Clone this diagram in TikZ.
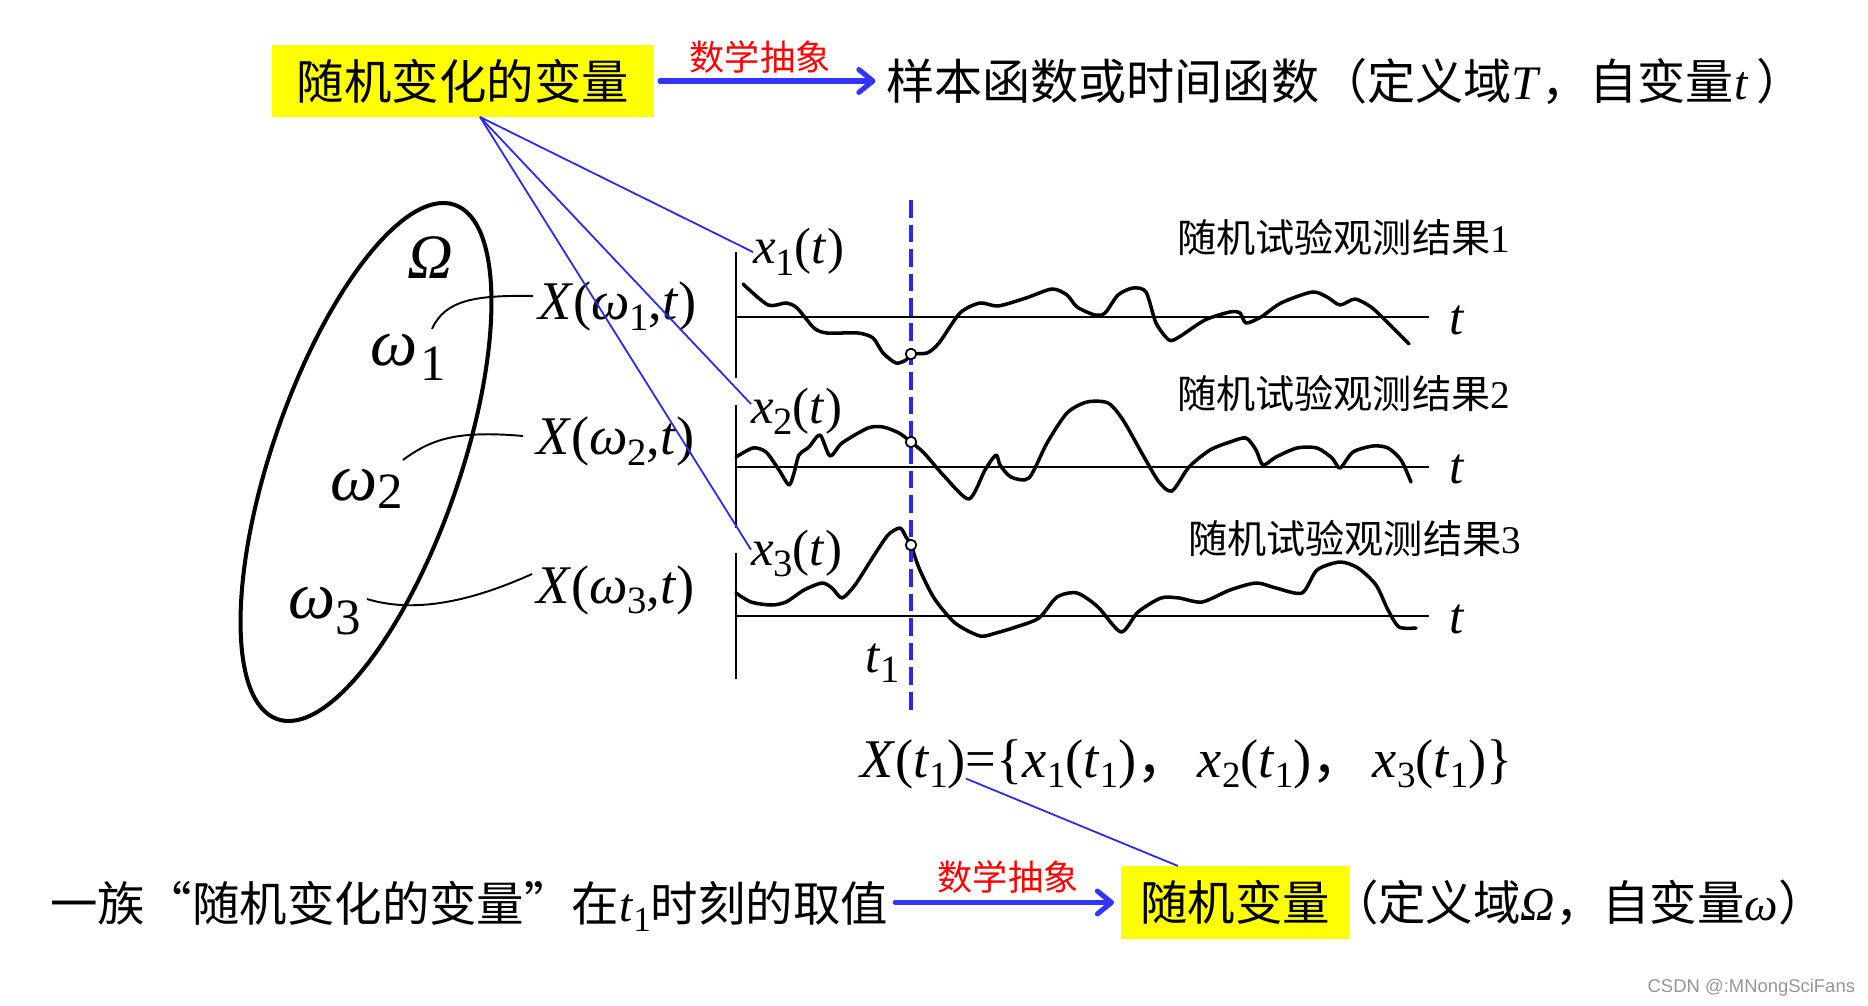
\documentclass[tikz,border=0pt]{standalone}
\usepackage{fontspec}
\setmainfont{Liberation Serif}
\newfontfamily\cjk{Noto Sans CJK SC}
\newfontfamily\wmfont{Liberation Sans}
\usetikzlibrary{arrows.meta}
\definecolor{arrowblue}{RGB}{51,51,255}
\definecolor{lineblue}{RGB}{40,40,240}
\definecolor{dashblue}{RGB}{40,40,240}
\definecolor{hlyellow}{RGB}{255,255,0}
\definecolor{absred}{RGB}{255,0,0}
\definecolor{wmgray}{RGB}{150,150,150}
\newcommand{\fsz}[1]{\fontsize{#1}{#1}\selectfont}
\newcommand{\lsub}[3]{\raisebox{-#2pt}{\upshape\fsz{#1}#3}}
\begin{document}
\begin{tikzpicture}[x=0.02cm,y=-0.02cm,
  every node/.style={inner sep=0pt,outer sep=0pt},
  ybox/.style={fill=hlyellow},
  bigarrow/.style={draw=arrowblue,line width=2.9pt,line cap=round,-{Straight Barb[length=8pt,width=13pt,line width=2.9pt,round]}},
  thinblue/.style={draw=lineblue,line width=1pt},
  axisline/.style={line width=1.5pt},
  wave/.style={line width=2pt,line join=round,line cap=round},
  link/.style={line width=1.1pt},
  dashv/.style={draw=dashblue,line width=2.2pt,dash pattern=on 10pt off 4pt},
  probe/.style={circle,draw,fill=white,line width=1pt,minimum size=6pt},
  redlab/.style={text=absred,anchor=base},
  wavelab/.style={anchor=base west}
]
\path[use as bounding box,fill=white] (0,0) rectangle (1868,1006);

% ---------- top line ----------
\node[ybox,minimum width=7.64cm,minimum height=1.44cm] (box1) at (463,81) {\cjk\fsz{27}随机变化的变量};
\node[anchor=base west] (toptext) at (886,100) {\fsz{27.4}{\cjk 样本函数或时间函数（定义域}\textit{T}{\cjk ，自变量}\textit{t}\,{\cjk ）}};
\node[redlab] (red1) at (760,71) {\cjk\fsz{20}数学抽象};
\draw[bigarrow,shorten <=3.5pt,shorten >=6pt] (box1.east) -- (box1.east -| toptext.west);

% ---------- sample space ----------
\draw[line width=2.3pt] (366,462) ellipse [x radius=272,y radius=94,rotate=71];
\node[anchor=base west] (Om) at (407,279) {\fsz{36}\textit{Ω}};
\node[anchor=base west] (w1) at (370,366) {\fsz{38}\textit{ω}\kern2pt\lsub{29}{8.5}{1}};
\node[anchor=base west] (w2) at (330,500) {\fsz{38}\textit{ω}\lsub{29}{5}{2}};
\node[anchor=base west] (w3) at (288,618) {\fsz{38}\textit{ω}\lsub{29}{9.5}{3}};

\node[anchor=base west] (X1) at (538,320) {\fsz{31}\textit{X}(\textit{ω}\lsub{22}{6}{1},\textit{t})};
\node[anchor=base west] (X2) at (536,455) {\fsz{31}\textit{X}(\textit{ω}\lsub{22}{6}{2},\textit{t})};
\node[anchor=base west] (X3) at (536,603) {\fsz{31}\textit{X}(\textit{ω}\lsub{22}{6}{3},\textit{t})};

\coordinate (l1a) at (432,329); \coordinate (l1b) at (533,296);
\coordinate (l2a) at (403,460); \coordinate (l2b) at (523,436);
\coordinate (l3a) at (367,599); \coordinate (l3b) at (532,574);
\draw[link] (l1a) .. controls (445,300) and (475,295) .. (l1b);
\draw[link] (l2a) .. controls (430,440) and (455,430) .. (l2b);
\draw[link] (l3a) .. controls (400,609) and (450,611) .. (l3b);

% ---------- sample functions ----------
\draw[axisline] (736,252) -- (736,378);
\draw[axisline] (736,317) -- (1429,317);
\draw[axisline] (736,405) -- (736,528);
\draw[axisline] (736,467) -- (1429,467);
\draw[axisline] (736,553) -- (736,679);
\draw[axisline] (736,616) -- (1429,616);

\node[anchor=base west] (xl1) at (753,264) {\fsz{29}\textit{x}\lsub{22}{6.5}{1}(\textit{t})};
\node[anchor=base west] (xl2) at (751,423) {\fsz{29}\textit{x}\lsub{22}{6.5}{2}(\textit{t})};
\node[anchor=base west] (xl3) at (751,565) {\fsz{29}\textit{x}\lsub{22}{6.5}{3}(\textit{t})};

\node[anchor=base west] (ta1) at (1449,335) {\fsz{29}\textit{t}};
\node[anchor=base west] (ta2) at (1449,483) {\fsz{29}\textit{t}};
\node[anchor=base west] (ta3) at (1449,633) {\fsz{29}\textit{t}};
\node[anchor=base west] (t1lab) at (865,672) {\fsz{29}\textit{t}\lsub{22}{6}{1}};

\node[wavelab] (res1) at (1177,253) {\fsz{22.3}{\cjk 随机试验观测结果}1};
\node[wavelab] (res2) at (1177,409) {\fsz{22.3}{\cjk 随机试验观测结果}2};
\node[wavelab] (res3) at (1188,553) {\fsz{22.3}{\cjk 随机试验观测结果}3};

\draw[wave] plot[smooth,tension=0.45] coordinates {(743,284) (768,305) (786,303) (797,308) (814,328) (827,333) (858,333) (873,338) (883,353) (896,363) (906,360) (911,354) (927,353) (939,343) (960,313) (980,303) (998,306) (1026,298) (1052,289) (1067,295) (1077,307) (1095,315) (1105,313) (1118,295) (1133,288) (1146,292) (1156,323) (1169,340) (1179,337) (1205,320) (1230,312) (1240,313) (1246,323) (1261,317) (1281,303) (1312,292) (1327,297) (1340,305) (1355,299) (1371,307) (1383,318) (1409,344)};
\draw[wave] plot[smooth,tension=0.45] coordinates {(736,457) (753,448) (766,452) (779,470) (789,485) (794,473) (799,455) (809,447) (820,435) (830,456) (842,443) (868,428) (883,427) (899,433) (911,442) (924,453) (945,477) (969,499) (985,470) (996,455) (1000,465) (1011,477) (1029,478) (1047,443) (1067,413) (1087,402) (1108,403) (1123,420) (1144,457) (1159,482) (1172,491) (1189,467) (1210,450) (1230,442) (1246,438) (1256,450) (1263,465) (1276,457) (1297,448) (1317,448) (1332,458) (1340,468) (1353,452) (1373,446) (1388,448) (1401,460) (1411,482)};
\draw[wave] plot[smooth,tension=0.45] coordinates {(736,593) (751,602) (771,605) (786,602) (804,590) (822,583) (832,588) (842,598) (855,585) (873,557) (888,535) (900,528) (906,537) (911,545) (919,568) (934,598) (955,623) (980,636) (996,633) (1016,627) (1039,618) (1057,597) (1077,593) (1098,607) (1121,632) (1138,612) (1161,598) (1179,598) (1202,602) (1230,590) (1256,583) (1276,588) (1302,593) (1317,570) (1340,562) (1358,568) (1376,585) (1388,610) (1399,627) (1416,628)};

\coordinate (dtop) at (911,200); \coordinate (dbot) at (911,710);
\draw[dashv] (dtop) -- (dbot);
\node[probe] (p1) at (911,354) {};
\node[probe] (p2) at (911,442) {};
\node[probe] (p3) at (911,545) {};

% ---------- blue guide lines ----------
\coordinate (b1) at ([xshift=0.34cm]box1.south);
\draw[thinblue] (b1) -- (xl1.west);
\draw[thinblue] (b1) -- ([yshift=4pt]xl2.west);
\draw[thinblue] (b1) -- ([yshift=2pt]xl3.west);

% ---------- bottom ----------
\node[anchor=base west] (formula) at (860,777) {\fsz{31}\textit{X}(\textit{t}\lsub{21}{6}{1})=\{\textit{x}\lsub{21}{6}{1}(\textit{t}\lsub{21}{6}{1}){\cjk ，}\kern4pt\textit{x}\lsub{21}{6}{2}(\textit{t}\lsub{21}{6}{1}){\cjk ，}\kern4pt\textit{x}\lsub{21}{6}{3}(\textit{t}\lsub{21}{6}{1})\}};
\node[anchor=base west] (bottext) at (50,921) {\fsz{27}{\cjk 一族“随机变化的变量”在}\textit{t}\lsub{20}{6}{1}{\cjk 时刻的取值}};
\node[ybox,minimum width=4.56cm,minimum height=1.46cm] (box2) at (1235,902.5) {\cjk\fsz{27}随机变量};
\node[anchor=base west] (partext) at (1331,920) {\fsz{27}{\cjk （定义域}\textit{Ω}{\cjk ，自变量}\textit{ω}{\cjk ）}};
\node[redlab] (red2) at (1008,890) {\cjk\fsz{20}数学抽象};
\draw[bigarrow,shorten <=4pt,shorten >=4pt] (box2.west -| bottext.east) -- (box2.west);

\coordinate (f1) at ([xshift=2.12cm,yshift=0.2cm]formula.south west);
\draw[thinblue] (f1) -- ([xshift=-1.14cm]box2.north);

\node[anchor=base east,text=wmgray] (wm) at (1855,992) {\wmfont\fsz{10.5}CSDN @:MNongSciFans};
\end{tikzpicture}
\end{document}
